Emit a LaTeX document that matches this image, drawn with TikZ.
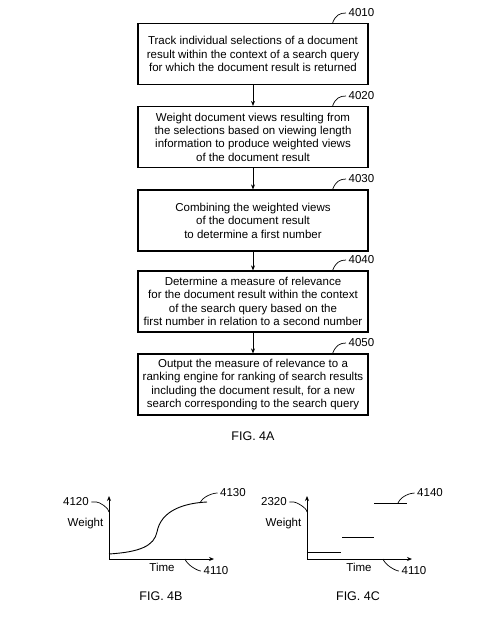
\documentclass[tikz,border=0pt]{standalone}
\usepackage{fontspec}
\setmainfont{Liberation Sans}
\usepackage{tikz}
\usetikzlibrary{positioning}
\usetikzlibrary{calc,arrows.meta}

\begin{document}
\begin{tikzpicture}[x=1pt,y=-1pt,>={Stealth[length=5pt,width=4pt]},
  font=\fontsize{11.5}{13.4}\selectfont,
  proc box/.style={draw,line width=1.2pt,minimum width=230pt,minimum height=61pt,
    align=center,inner sep=1pt},
  ref label/.style={inner sep=2.5pt},
  leader/.style={line width=.7pt},
  axis line/.style={<->,line width=.9pt},
  fig caption/.style={font=\fontsize{12.5}{14}\selectfont}]
\useasboundingbox (0,0) rectangle (503,637);
% FIG. 4A
\node[proc box] at (253,54) (track) {Track individual selections of a document\\result within the context of a search query\\for which the document result is returned};
\node[proc box] at (253,137) (weight) {Weight document views resulting from\\the selections based on viewing length\\information to produce weighted views\\of the document result};
\node[proc box] at (253,220.5) (combine) {Combining the weighted views\\of the document result\\to determine a first number};
\node[proc box] at (253,301.5) (measure) {Determine a measure of relevance\\for the document result within the context\\of the search query based on the\\first number in relation to a second number};
\node[proc box] at (253,384.5) (output) {Output the measure of relevance to a\\ranking engine for ranking of search results\\including the document result, for a new\\search corresponding to the search query};
\draw[->, line width=.9pt] (track) -- (weight);
\draw[->, line width=.9pt] (weight) -- (combine);
\draw[->, line width=.9pt] (combine) -- (measure);
\draw[->, line width=.9pt] (measure) -- (output);
\node[ref label,anchor=west] at (346,13) (ltrack) {4010};
\node[ref label,anchor=west] at (346,96) (lweight) {4020};
\node[ref label,anchor=west] at (346,179) (lcombine) {4030};
\node[ref label,anchor=west] at (346,260) (lmeasure) {4040};
\node[ref label,anchor=west] at (346,343) (loutput) {4050};
\draw[leader] ([xshift=-36pt]track.north east) .. controls +(3,-8) and +(-6,0) .. (ltrack.west);
\draw[leader] ([xshift=-36pt]weight.north east) .. controls +(3,-8) and +(-6,0) .. (lweight.west);
\draw[leader] ([xshift=-36pt]combine.north east) .. controls +(3,-8) and +(-6,0) .. (lcombine.west);
\draw[leader] ([xshift=-36pt]measure.north east) .. controls +(3,-8) and +(-6,0) .. (lmeasure.west);
\draw[leader] ([xshift=-36pt]output.north east) .. controls +(3,-8) and +(-6,0) .. (loutput.west);
\node[fig caption] at (253,436) (capA) {FIG. 4A};
% FIG. 4B
\coordinate (btop) at (109,496);
\coordinate (bend) at (214,559);
\draw[axis line] (btop) |- (bend);
\draw[line width=.9pt] (109,554) .. controls (140,552) and (154,546) .. (157,532)
  .. controls (161,510) and (185,503) .. (207,502);
\node[ref label] at (76,502) (lbweight) {4120};
\node[ref label,anchor=east] at (106,524) (bweight) {Weight};
\node[ref label] at (162,567) (btime) {Time};
\node[ref label] at (216,571) (lbtime) {4110};
\node[ref label] at (233,493) (lbcurve) {4130};
\coordinate (bya) at (109,512);
\coordinate (bxa) at (185,559);
\coordinate (bca) at (200,503);
\draw[leader] (lbweight.east) -- ++(5,0) .. controls +(3,0) and +(0,-4) .. (bya);
\draw[leader] (bxa) .. controls +(2,6) and +(-3,0) .. (lbtime.west);
\draw[leader] (bca) .. controls +(3,-7) and +(-4,0) .. (lbcurve.west);
\node[fig caption] at (161,596) (capB) {FIG. 4B};
% FIG. 4C
\coordinate (ctop) at (307,496);
\coordinate (cend) at (412,559);
\draw[axis line] (ctop) |- (cend);
\draw[line width=.9pt] (307,552) -- (341,552);
\draw[line width=.9pt] (342,537) -- (374,537);
\draw[line width=.9pt] (374,503) -- (407,503);
\node[ref label] at (274,502) (lcweight) {2320};
\node[ref label,anchor=east] at (304,524) (cweight) {Weight};
\node[ref label] at (359,567) (ctime) {Time};
\node[ref label] at (414,571) (lctime) {4110};
\node[ref label] at (430,493) (lcstep) {4140};
\coordinate (cya) at (307,512);
\coordinate (cxa) at (383,559);
\coordinate (csa) at (398,503);
\draw[leader] (lcweight.east) -- ++(4,0) .. controls +(3,0) and +(0,-4) .. (cya);
\draw[leader] (cxa) .. controls +(2,6) and +(-3,0) .. (lctime.west);
\draw[leader] (csa) .. controls +(3,-7) and +(-4,0) .. (lcstep.west);
\node[fig caption] at (358,596) (capC) {FIG. 4C};
\end{tikzpicture}
\end{document}
